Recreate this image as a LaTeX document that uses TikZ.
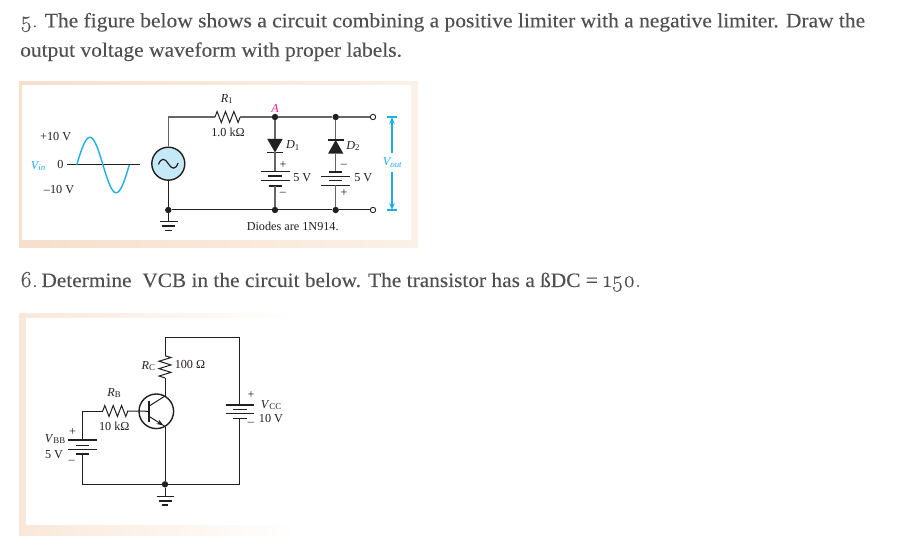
\documentclass[tikz,border=0pt]{standalone}
\usepackage{fontspec}
\setmainfont{Liberation Serif}
\newfontfamily\headfont[FakeStretch=1.053,FakeBold=0.12]{Liberation Serif}
\newfontfamily\headfontb[FakeStretch=1.047,FakeBold=0.12]{Liberation Serif}
\newfontfamily\osf[Numbers=OldStyle,FakeBold=0.35,Scale=1.12]{Latin Modern Roman}
\usetikzlibrary{arrows.meta}
\definecolor{wavecol}{HTML}{1DAEE6}
\definecolor{srcfill}{HTML}{C6E9F8}
\definecolor{ink}{HTML}{231F20}
\definecolor{headcol}{HTML}{505050}
\definecolor{framea}{HTML}{F6DFCB}
\definecolor{frameb}{HTML}{FBF1E7}
\definecolor{framec}{HTML}{F9E8DA}
\definecolor{pinkA}{HTML}{EC1C8C}
\definecolor{greywire}{HTML}{666666}
\tikzset{
  wire/.style={draw=ink,line width=1pt},
  gwire/.style={draw=greywire,line width=1.3pt},
  plate/.style={draw=ink,line width=1.5pt},
  dot/.style={circle,fill=ink,inner sep=0pt,minimum size=6.4pt},
  term/.style={circle,draw=ink,fill=white,line width=0.9pt,inner sep=0pt,minimum size=5.4pt},
  lab/.style={font=\fontsize{12.2}{14}\selectfont,text=ink,inner sep=0pt},
  heading/.style={font=\fontsize{20.4}{24}\headfont,text=headcol,inner sep=0pt,anchor=base west},
  vmeas/.style={draw=wavecol,line width=1.1pt}
}
\newcommand{\zigH}{-- ++(2.1,-5.5) -- ++(4.2,11) -- ++(4.2,-11) -- ++(4.2,11) -- ++(4.2,-11) -- ++(4.2,11) -- ++(2.1,-5.5)}
\newcommand{\zigV}{-- ++(6,1.85) -- ++(-12,3.7) -- ++(12,3.7) -- ++(-12,3.7) -- ++(12,3.7) -- ++(-12,3.7) -- ++(6,1.85)}
\newcommand{\sbs}[1]{\raisebox{-1.8pt}{\fontsize{8.8}{10}\selectfont #1}}
\begin{document}
\begin{tikzpicture}[x=1pt,y=-1pt]
\useasboundingbox (0,0) rectangle (910,545);
\fill[white] (0,0) rectangle (910,545);
% headings
\node[heading] (h1) at (20,27.3) {{\osf 5.} The figure below shows a circuit combining a positive limiter with a negative limiter. Draw the};
\node[heading] (h2) at (20,56.7) {output voltage waveform with proper labels.};
\node[heading,font=\fontsize{20.4}{24}\headfontb] (h3) at (20,287) {{\osf 6.}\hspace{-3.5pt} Determine\ \ VCB in the circuit below. The transistor has a ßDC = {\osf 150.}};
% frame 1
\shade[left color=framea,right color=frameb] (19,82) rectangle (418,85);
\shade[left color=framea,right color=frameb] (19,241) rectangle (418,248);
\fill[framea] (19,82) rectangle (22.3,248);
\fill[frameb] (411,82) rectangle (418,248);
% frame 2
\shade[left color=framec,right color=white] (19,313) rectangle (295,317.7);
\shade[left color=framec,right color=white] (19,525) rectangle (295,535);
\fill[framec] (19,313) rectangle (25.7,535);

% ---------- circuit 1 ----------
\coordinate (axL) at (67.3,165);
\coordinate (axR) at (140,165);
\draw[wire] (axL) -- (axR);
\draw[wavecol,line width=1.4pt,domain=0:360,samples=60,smooth] plot ({76.7+\x/360*52.6},{165-27.7*sin(\x)});
\node[lab] (l10p) at (55.7,136.7) {+10 V};
\node[lab] (l0) at (60.5,165) {0};
\node[lab] (l10m) at (59,189.7) {\char"2013 10 V};
\node[lab,text=wavecol,font=\fontsize{12.2}{14}\selectfont\itshape] (vin) at (38,166) {V\sbs{in}};

\node[circle,draw=ink,fill=srcfill,line width=1.4pt,minimum size=33pt,inner sep=0pt] (src) at (168.3,163.7) {};
\draw[ink,line width=1.2pt] (158.5,164.5) .. controls (161,157.5) and (165,158) .. (168.3,163.7) .. controls (171.6,169.4) and (175.6,170) .. (178.1,163);

\coordinate (R1a) at (215,117);
\coordinate (R1b) at (240.2,117);
\node[dot] (A) at (275,117) {};
\node[dot] (N2) at (335.7,117) {};
\node[term] (T1) at (373,117) {};
\node[dot] (G1) at (168.3,210) {};
\node[dot] (B1) at (275,210) {};
\node[dot] (B2) at (335.7,210) {};
\node[term] (T2) at (373,210) {};

\draw[gwire] (src.north) |- (R1a);
\draw[wire] (R1a) \zigH;
\draw[gwire] (R1b) -- (A) -- (N2) -- (T1);
\draw[wire] (src.south) -- (G1);
\draw[wire] (G1) -- (B1) -- (B2) -- (T2);

% D1
\coordinate (D1t) at (275,139);
\coordinate (D1k) at (275,152.5);
\draw[gwire] (A) -- (D1t);
\fill[ink] (267.3,139) -- (282.7,139) -- (D1k) -- cycle;
\draw[plate] (267,152.5) -- (283,152.5);
\coordinate (Ba1) at (275,171.7);
\coordinate (Ba2) at (275,186);
\draw[gwire] (D1k) -- (Ba1);
\draw[plate] (260.7,171.7) -- (289.5,171.7);
\draw[plate] (268,176) -- (282,176);
\draw[plate] (260.7,180.7) -- (289.5,180.7);
\draw[plate] (268.5,186) -- (281.5,186);
\draw[gwire] (Ba2) -- (B1);
% D2
\coordinate (D2t) at (335.7,140);
\coordinate (D2b) at (335.7,153.7);
\draw[gwire] (N2) -- (D2t);
\draw[plate] (327.7,140) -- (343.7,140);
\fill[ink] (328,153.7) -- (343.4,153.7) -- (D2t) -- cycle;
\coordinate (Bb1) at (335.7,172);
\coordinate (Bb2) at (335.7,185.3);
\draw[gwire] (D2b) -- (Bb1);
\draw[plate] (329,172) -- (342.4,172);
\draw[plate] (321,176.3) -- (350,176.3);
\draw[plate] (329,180.7) -- (342.4,180.7);
\draw[plate] (321,185.3) -- (350,185.3);
\draw[gwire] (Bb2) -- (B2);
% ground 1
\coordinate (Gg1) at (168.3,221.7);
\draw[wire] (G1) -- (Gg1);
\draw[plate] (159.5,221.7) -- (177.5,221.7);
\draw[plate] (161.8,226.2) -- (175,226.2);
\draw[plate] (165,230.7) -- (171.7,230.7);
% Vout
\coordinate (vt) at (392,117);
\coordinate (vb) at (392,210);
\draw[vmeas] (387,117) -- (397,117);
\draw[vmeas] (387,210) -- (397,210);
\node[lab,text=wavecol,font=\fontsize{12.2}{14}\selectfont\itshape] (vout) at (392.3,162.5) {V\sbs{out}};
\coordinate (vo1) at (392,153);
\coordinate (vo2) at (392,172);
\draw[vmeas,-{Stealth[length=7pt,width=5.5pt]}] (vo1) -- (vt);
\draw[vmeas,-{Stealth[length=7pt,width=5.5pt]}] (vo2) -- (vb);
% labels 1
\node[lab] (lR1) at (226.7,99) {\textit{R}\sbs{1}};
\node[lab] (lk1) at (228,132) {1.0 k\symbol{"03A9}};
\node[lab,text=pinkA,font=\fontsize{12.2}{14}\selectfont\itshape] (lA) at (275,108) {A};
\node[lab] (lD1) at (292.7,145.7) {\textit{D}\sbs{1}};
\node[lab] (lD2) at (353,146) {\textit{D}\sbs{2}};
\node[lab] (p1) at (283,165) {+};
\node[lab] (m1) at (283,194) {\char"2013};
\node[lab] (v1) at (302.3,177.7) {5 V};
\node[lab] (m2) at (344,165.7) {\char"2013};
\node[lab] (p2) at (344,193) {+};
\node[lab] (v2) at (363.3,177.7) {5 V};
\node[lab] (lnote) at (292.7,226) {Diodes are 1N914.};

% ---------- circuit 2 ----------
\node[circle,draw=ink,line width=1.4pt,minimum size=34.6pt,inner sep=0pt] (Q) at (156.3,411.3) {};
\coordinate (bar1) at (149.3,400.7);
\coordinate (bar2) at (149.3,421.7);
\coordinate (Bs) at (149.3,411.3);
\coordinate (Ci) at (149.3,406);
\coordinate (Co) at (165,396);
\coordinate (Ei) at (149.3,416.5);
\coordinate (Eo) at (165,426.5);
\draw[ink,line width=1.9pt] (bar1) -- (bar2);
\draw[wire] (Ci) -- (Co);
\draw[wire,-{Stealth[length=7pt,width=5pt]}] (Ei) -- (163.5,425.5);
\draw[wire] (163,425.2) -- (Eo);

\coordinate (RCt) at (165,355.7);
\coordinate (RCb) at (165,377.9);
\coordinate (TLc) at (165,337.3);
\coordinate (TRc) at (239.5,337.3);
\coordinate (Va) at (239.5,405);
\coordinate (Vb) at (239.5,418.3);
\node[dot] (G2) at (165,484.3) {};
\coordinate (BRc) at (239.5,484.3);
\coordinate (RBa) at (102.7,411);
\coordinate (RBb) at (126.9,411);
\coordinate (LTc) at (82.3,411);
\coordinate (Ua) at (82.3,440);
\coordinate (Ub) at (82.3,454);
\coordinate (LBc) at (82.3,484.3);

\draw[wire] (Co) -- (RCb);
\draw[wire] (RCt) \zigV;
\draw[wire] (RCt) -- (TLc) -- (TRc) -- (Va);
\draw[wire] (Vb) -- (BRc) -- (G2);
\draw[wire] (Eo) -- (G2);
\draw[wire] (G2) -- (LBc) -- (Ub);
\draw[wire] (Ua) -- (LTc) -- (RBa);
\draw[wire] (RBa) \zigH;
\draw[wire] (RBb) -- (Bs);

\draw[plate] (225.7,405) -- (254.3,405);
\draw[plate] (233,409.3) -- (246.7,409.3);
\draw[plate] (225.7,413.7) -- (254.3,413.7);
\draw[plate] (233,418.3) -- (246.7,418.3);

\draw[plate] (68,440) -- (96.7,440);
\draw[plate] (76,445.3) -- (89.3,445.3);
\draw[plate] (68,449.3) -- (96.7,449.3);
\draw[plate] (76,454) -- (89.3,454);

\coordinate (Gg2) at (165,496.7);
\draw[wire] (G2) -- (Gg2);
\draw[plate] (156.7,496.7) -- (174.3,496.7);
\draw[plate] (159,501) -- (171.7,501);
\draw[plate] (162.3,505) -- (168.3,505);

\node[lab] (lRC) at (148.3,366) {\textit{R}\sbs{C}};
\node[lab] (l100) at (190,365) {100 \symbol{"03A9}};
\node[lab] (lRB) at (114,393) {\textit{R}\sbs{B}};
\node[lab] (l10k) at (114.3,426.7) {10 k\symbol{"03A9}};
\node[lab] (pb) at (72.5,432) {+};
\node[lab] (lVB) at (55,439) {\textit{V}\sbs{BB}};
\node[lab] (l5) at (54,455) {5 V};
\node[lab] (mb) at (71.7,462) {\char"2013};
\node[lab] (pc) at (251,395) {+};
\node[lab] (lVC) at (271,405) {\textit{V}\sbs{CC}};
\node[lab] (l10) at (271,419) {10 V};
\node[lab] (mc) at (251,424) {\char"2013};
\end{tikzpicture}
\end{document}
